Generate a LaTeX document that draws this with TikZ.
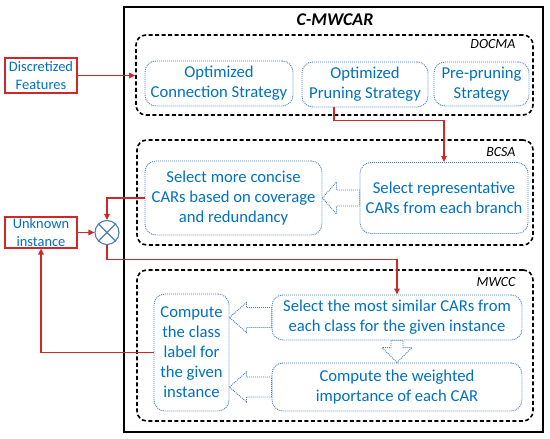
\documentclass[tikz,border=0pt]{standalone}
\usepackage{fontspec}
\setmainfont{Carlito}
\usetikzlibrary{arrows.meta,calc}
\definecolor{tblue}{HTML}{0070C0}
\definecolor{bblue}{HTML}{4A7EBB}
\definecolor{rred}{HTML}{D02828}
\begin{document}
\begin{tikzpicture}[x=1bp,y=-1bp,
 sz/.style 2 args={minimum width=#1bp, minimum height=#2bp},
 inbox/.style={draw=bblue, line width=0.9bp, dash pattern=on 1bp off 1bp, rounded corners=11bp, text=tblue, align=center, font=\fontsize{16.7}{20}\selectfont, inner sep=0pt},
 grp/.style={draw=black, line width=1.6bp, dash pattern=on 4bp off 2.5bp, rounded corners=10bp, inner sep=0pt},
 redbox/.style={draw=rred, line width=1.2bp, text=tblue, align=center, font=\fontsize{14.5}{18}\selectfont, inner sep=0pt},
 rline/.style={draw=rred, line width=1.1bp, -{Triangle[length=6bp,width=5.5bp]}},
 hol/.style={draw=bblue, line width=0.9bp, dash pattern=on 1bp off 1bp, fill=white},
 glabel/.style={font=\itshape\fontsize{14}{16}\selectfont, anchor=east}
]
\fill[white] (0,0) rectangle (550,439);
\useasboundingbox (0,0) rectangle (550,439);
\node[draw, line width=1.8bp, sz={419}{425}, inner sep=0pt] (outer) at (333.5,219.5) {};
\node[font=\bfseries\itshape\fontsize{18}{20}\selectfont] (title) at (335,20) {C-MWCAR};

\node[grp, sz={397}{80}] (docma) at (334.5,75) {};
\node[glabel] (docmal) at (519,44) {DOCMA};
\node[inbox, sz={148}{45}] (c1) at (219,83.5) {Optimized\\Connection Strategy};
\node[inbox, sz={126}{45}] (c2) at (365,84.5) {Optimized\\Pruning Strategy};
\node[inbox, sz={95}{44}] (c3) at (481.5,84) {Pre-pruning\\Strategy};

\node[grp, sz={396}{105}] (bcsa) at (335,192.5) {};
\node[glabel] (bcsal) at (519,152) {BCSA};
\node[inbox, sz={177}{74}] (b1) at (233.5,198) {Select more concise\\CARs based on coverage\\and redundancy};
\node[inbox, sz={168}{71}] (b2) at (444,198) {Select representative\\CARs from each branch};

\node[grp, sz={396}{151}] (mwcc) at (335,345.5) {};
\node[glabel] (mwccl) at (519,282) {MWCC};
\node[inbox, sz={75}{117}] (m1) at (191.5,352.5) {Compute\\the class\\label for\\the given\\instance};
\node[inbox, sz={250}{45}] (m2) at (397,317.5) {Select the most similar CARs from\\each class for the given instance};
\node[inbox, sz={250}{48}] (m3) at (397,387) {Compute the weighted\\importance of each CAR};

\node[redbox, sz={72}{35}] (disc) at (41,75.5) {Discretized\\Features};
\node[redbox, sz={72}{31}] (unk) at (41,232.5) {Unknown\\instance};
\node[circle, draw=bblue, line width=1.1bp, fill=white, minimum size=24bp, inner sep=0pt] (cx) at (107,232.5) {};
\draw[bblue, line width=1.1bp] (cx.north east) -- (cx.south west) (cx.north west) -- (cx.south east);

% hollow arrows
\draw[hol] (b1.east) -- ++(14,-16) -- ++(0,8) -- ($(b2.west)+(0,-8)$) -- ($(b2.west)+(0,8)$) -- ($(b1.east)+(14,8)$) -- ++(0,8) -- cycle;
\draw[hol] (m1.east |- m2.west) -- ++(17,-15) -- ++(0,5) -- ($(m2.west)+(0,-10)$) -- ($(m2.west)+(0,10)$) -- ($(m1.east |- m2.west)+(17,10)$) -- ++(0,5) -- cycle;
\draw[hol] (m1.east |- m3.west) -- ++(17,-15) -- ++(0,5) -- ($(m3.west)+(0,-10)$) -- ($(m3.west)+(0,10)$) -- ($(m1.east |- m3.west)+(17,10)$) -- ++(0,5) -- cycle;
\draw[hol] (m3.north) -- ++(-15,-15) -- ++(9,0) -- ($(m2.south)+(-6,0)$) -- ($(m2.south)+(6,0)$) -- ($(m3.north)+(6,-15)$) -- ++(9,0) -- cycle;

% red connectors
\draw[rline] (disc.east) -- (disc.east -| docma.west);
\draw[rline] ($(c2.south)+(-31,0)$) -- ++(0,13) -| (b2.north);
\draw[rline] (b1.west) -| (cx.north);
\draw[rline] (unk.east) -- (cx.west);
\draw[rline] (cx.south) -- ++(0,14) -| (m2.north);
\draw[rline, line width=1.4bp] (m1.west) -| (unk.south);
\end{tikzpicture}
\end{document}
